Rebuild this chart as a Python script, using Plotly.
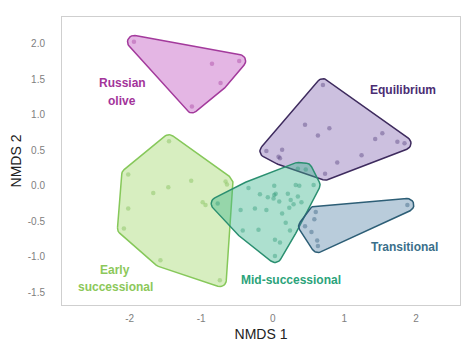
import numpy as np
import plotly.graph_objects as go

# ---- data (NMDS scores) ----
groups = ["Russian olive", "Equilibrium", "Early successional", "Mid-successional", "Transitional"]

russian_x = [-1.94, -0.85, -0.47, -0.73, -1.13]
russian_y = [2.03, 1.72, 1.76, 1.45, 1.12]

equil_x = [0.70, 0.45, 0.79, 0.63, 1.53, 1.43, 1.74, 1.84, -0.09, 0.13, 0.10, 1.24, 0.90, 0.73, 0.08]
equil_y = [1.42, 0.86, 0.81, 0.71, 0.74, 0.66, 0.62, 0.60, 0.49, 0.51, 0.39, 0.43, 0.33, 0.17, 0.41]

early_x = [-1.45, -2.02, -1.14, -1.46, -1.67, -0.66, -0.64, -0.98, -0.94, -2.02, -2.08, -1.57, -0.74]
early_y = [0.63, 0.16, 0.07, -0.02, -0.10, 0.06, 0.02, -0.23, -0.27, -0.32, -0.60, -1.05, -1.33]

mid_x = [-0.34, 0.02, -0.18, -0.07, 0.02, 0.04, 0.09, 0.01, 0.21, 0.32, 0.37, 0.57, 0.25, 0.35,
         0.40, 0.29, 0.23, -0.45, -0.25, -0.09, 0.13, -0.77, 0.18, 0.24, -0.42, -0.20, 0.03,
         0.10, 0.03, 0.35, 0.46]
mid_y = [-0.03, 0.00, -0.12, -0.16, -0.13, -0.11, -0.22, -0.18, -0.11, 0.01, 0.00, 0.01, -0.20,
         -0.15, -0.23, -0.26, -0.31, -0.34, -0.32, -0.34, -0.39, -0.25, -0.52, -0.63, -0.63,
         -0.62, -0.76, -0.80, -0.99, 0.24, 0.23]

trans_x = [1.88, 0.60, 0.58, 0.45, 0.54, 0.62, 0.63]
trans_y = [-0.27, -0.37, -0.47, -0.57, -0.65, -0.77, -0.85]

x_ticks = [-2, -1, 0, 1, 2]
y_ticks = [-1.5, -1.0, -0.5, 0.0, 0.5, 1.0, 1.5, 2.0]
y_tick_text = ["-1.5", "-1.0", "-0.5", "0.0", "0.5", "1.0", "1.5", "2.0"]

# ---- styles ----
styles = {
    "Russian olive": dict(fill="rgba(190,80,190,0.42)", line="#a33a9c", pt="rgba(170,70,165,0.45)", txt="#a3349a"),
    "Equilibrium": dict(fill="rgba(120,90,170,0.38)", line="#3e2b5e", pt="rgba(90,70,130,0.45)", txt="#4a2d72"),
    "Early successional": dict(fill="rgba(150,210,90,0.38)", line="#86c85a", pt="rgba(130,190,90,0.45)", txt="#8cc85a"),
    "Mid-successional": dict(fill="rgba(60,180,140,0.42)", line="#2a8f70", pt="rgba(40,150,115,0.40)", txt="#2ba37a"),
    "Transitional": dict(fill="rgba(70,120,160,0.38)", line="#2d5e76", pt="rgba(60,100,130,0.45)", txt="#3a6f8a"),
}

label_pos = {
    "Russian olive": [("Russian", -2.10, 1.45), ("olive", -2.10, 1.19)],
    "Equilibrium": [("Equilibrium", 1.82, 1.35)],
    "Early successional": [("Early", -2.20, -1.18), ("successional", -2.20, -1.42)],
    "Mid-successional": [("Mid-successional", 0.26, -1.33)],
    "Transitional": [("Transitional", 1.84, -0.865)],
}

data = {
    "Russian olive": (russian_x, russian_y),
    "Equilibrium": (equil_x, equil_y),
    "Early successional": (early_x, early_y),
    "Mid-successional": (mid_x, mid_y),
    "Transitional": (trans_x, trans_y),
}


def convex_hull(pts):
    pts = sorted(set(pts))
    if len(pts) <= 2:
        return pts

    def cross(o, a, b):
        return (a[0] - o[0]) * (b[1] - o[1]) - (a[1] - o[1]) * (b[0] - o[0])

    lower = []
    for p in pts:
        while len(lower) >= 2 and cross(lower[-2], lower[-1], p) <= 0:
            lower.pop()
        lower.append(p)
    upper = []
    for p in reversed(pts):
        while len(upper) >= 2 and cross(upper[-2], upper[-1], p) <= 0:
            upper.pop()
        upper.append(p)
    return lower[:-1] + upper[:-1]


def rounded_hull(xs, ys, r=0.09, n=10):
    hull = convex_hull(list(zip(xs, ys)))
    m = len(hull)
    out_x, out_y = [], []
    for i in range(m):
        p_prev = np.array(hull[i - 1])
        p = np.array(hull[i])
        p_next = np.array(hull[(i + 1) % m])
        e1 = p - p_prev
        e2 = p_next - p
        n1 = np.array([e1[1], -e1[0]]) / np.linalg.norm(e1)
        n2 = np.array([e2[1], -e2[0]]) / np.linalg.norm(e2)
        a1 = np.arctan2(n1[1], n1[0])
        a2 = np.arctan2(n2[1], n2[0])
        while a2 < a1:
            a2 += 2 * np.pi
        for a in np.linspace(a1, a2, n):
            out_x.append(p[0] + r * np.cos(a))
            out_y.append(p[1] + r * np.sin(a))
    out_x.append(out_x[0])
    out_y.append(out_y[0])
    return out_x, out_y


fig = go.Figure()

for g in groups:
    xs, ys = data[g]
    st = styles[g]
    hx, hy = rounded_hull(xs, ys)
    fig.add_trace(go.Scatter(x=hx, y=hy, mode="lines", fill="toself",
                             fillcolor=st["fill"], line=dict(color=st["line"], width=1.5),
                             hoverinfo="skip", showlegend=False, name=g))

for g in groups:
    xs, ys = data[g]
    st = styles[g]
    fig.add_trace(go.Scatter(x=xs, y=ys, mode="markers",
                             marker=dict(size=4.5, color=st["pt"]),
                             showlegend=False, name=g))

for g in groups:
    for txt, lx, ly in label_pos[g]:
        fig.add_annotation(x=lx, y=ly, text="<b>%s</b>" % txt, showarrow=False,
                           font=dict(size=12, color=styles[g]["txt"],
                                     family="Arial, Liberation Sans, sans-serif"),
                           xanchor="center", yanchor="middle")

axis_common = dict(showgrid=False, zeroline=False, showline=True, linecolor="#cfcfcf",
                   linewidth=1, mirror=True, ticks="", automargin=False,
                   tickfont=dict(size=10, color="#808080", family="Arial, Liberation Sans, sans-serif"),
                   title_font=dict(size=14, color="#222222", family="Arial, Liberation Sans, sans-serif"))

fig.update_layout(
    width=474, height=357,
    margin=dict(l=54, r=22, t=9, b=60),
    paper_bgcolor="white", plot_bgcolor="white",
    xaxis=dict(range=[-2.945, 2.615], tickvals=x_ticks, ticktext=[str(t) for t in x_ticks],
               title=dict(text="NMDS 1", standoff=6), ticklabelstandoff=4, **axis_common),
    yaxis=dict(range=[-1.68, 2.38], tickvals=y_ticks, ticktext=y_tick_text,
               title=dict(text="NMDS 2", standoff=9), ticklabelstandoff=14, **axis_common),
)

fig.write_html("out.html")
